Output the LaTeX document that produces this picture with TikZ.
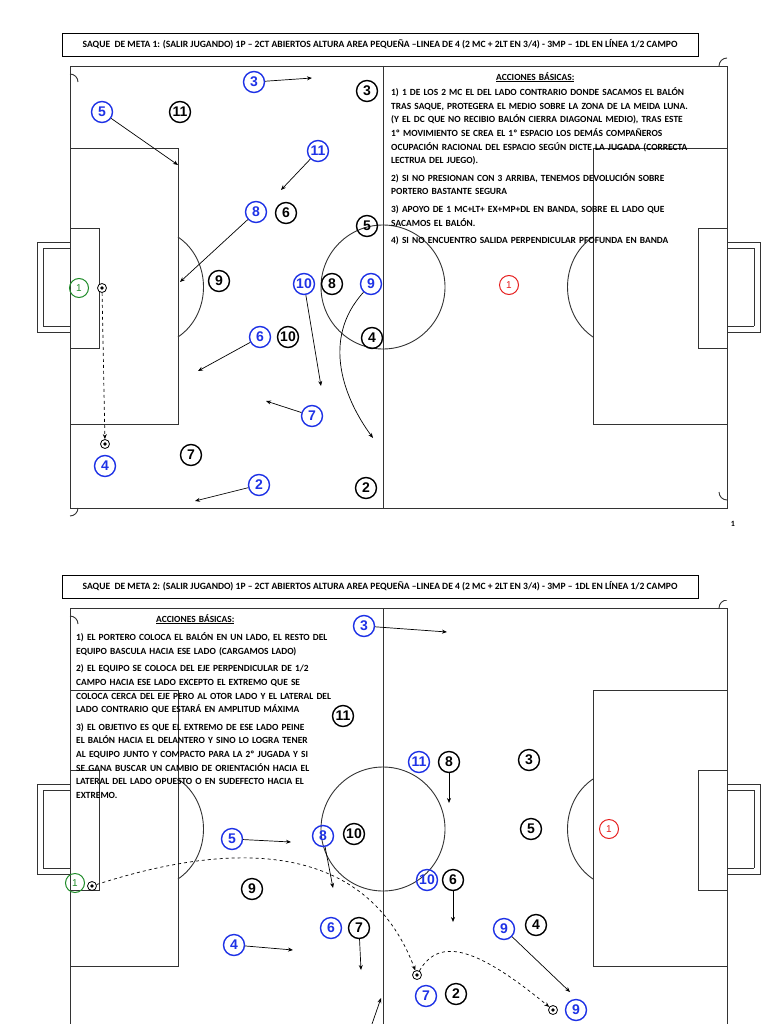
\documentclass[tikz,border=0pt]{standalone}
\usepackage{fontspec}
\setmainfont{Carlito}
\newfontfamily\numf{Liberation Sans}
\usetikzlibrary{arrows.meta}
\definecolor{pblue}{RGB}{30,50,230}
\definecolor{pgreen}{RGB}{30,140,40}
\definecolor{pred}{RGB}{230,30,30}
\hyphenpenalty=10000
\exhyphenpenalty=10000
\begin{document}
\begin{tikzpicture}[x=1pt,y=-1pt,
  line/.style={draw=black!80,line width=0.9pt},
  bp/.style={circle,draw=pblue,line width=1.4pt,text=pblue,inner sep=0pt,minimum size=21pt,font=\numf\bfseries\fontsize{14}{14}\selectfont},
  kp/.style={circle,draw=black,line width=1.4pt,text=black,inner sep=0pt,minimum size=21pt,font=\numf\bfseries\fontsize{14}{14}\selectfont},
  gk/.style={circle,draw=#1,line width=1pt,text=#1,inner sep=0pt,minimum size=19pt,font=\numf\fontsize{10}{10}\selectfont},
  ball/.style={circle,draw=black,fill=white,line width=0.8pt,inner sep=0pt,minimum size=9pt,path picture={\fill[black] (path picture bounding box.center) circle (1.8pt);}},
  arr/.style={-{Stealth[length=5pt,width=4pt]},line width=0.7pt},
  txt/.style={font=\bfseries\fontsize{9.4}{13.6}\selectfont,align=left,inner sep=0pt,anchor=north west},
  ttl/.style={draw,line width=0.7pt,minimum width=636pt,minimum height=23pt,font=\bfseries\fontsize{9.6}{10}\selectfont,inner sep=0pt}]
\useasboundingbox (0,0) rectangle (768,1024);
\fill[white] (0,0) rectangle (768,1024);
\foreach \oy/\cl in {0/0,542/1}{
\begin{scope}[yshift=-\oy pt]
\ifnum\cl=1 \clip (0,58) rectangle (768,482);\fi
\draw[line] (70,66) rectangle (727,508+60*\cl);
\draw[line] (383,66) -- (383,508+60*\cl);
\draw[line] (383,287) circle (62);
\draw[line] (70,148) rectangle (178,424);
\draw[line] (70,228) rectangle (99,348);
\draw[line] (70,242) -- (37,242) -- (37,332) -- (70,332);
\draw[line] (43,248) -- (43,326) -- (70,326);
\draw[line] (43,248) -- (70,248);
\draw[line] (727,148) -- (593,148) -- (593,424) -- (727,424);
\draw[line] (727,228) -- (698,228) -- (698,348) -- (727,348);
\draw[line] (727,242) -- (760,242) -- (760,332) -- (727,332);
\draw[line] (754,248) -- (754,326);
\draw[line] (727,248) -- (754,248); \draw[line] (727,326) -- (754,326);
\draw[line] (178,237) .. controls (212,260) and (212,314) .. (178,337);
\draw[line] (593,237) .. controls (559,260) and (559,314) .. (593,337);
\draw[line] (70,74) arc[start angle=-90,end angle=0,radius=8];
\draw[line] (719,66) arc[start angle=180,end angle=270,radius=8];
\ifnum\cl=0
\draw[line] (78,508) arc[start angle=0,end angle=90,radius=8];
\draw[line] (727,500) arc[start angle=90,end angle=180,radius=8];
\fi
\end{scope}}
\node[ttl] (t1) at (380,44.5) {SAQUE \ DE META 1: (SALIR JUGANDO) 1P -- 2CT ABIERTOS ALTURA AREA PEQUEÑA --LINEA DE 4 (2 MC + 2LT EN 3/4) - 3MP -- 1DL EN LÍNEA 1/2 CAMPO};
\node[ttl] (t2) at (380,586.5) {SAQUE \ DE META 2: (SALIR JUGANDO) 1P -- 2CT ABIERTOS ALTURA AREA PEQUEÑA --LINEA DE 4 (2 MC + 2LT EN 3/4) - 3MP -- 1DL EN LÍNEA 1/2 CAMPO};
\node[font=\bfseries\fontsize{8}{8}\selectfont] (pg) at (733,524) {1};
\node[txt,text width=300pt] (tx1) at (391,72) {\hspace*{105pt}\underline{ACCIONES BÁSICAS:}\\[2pt]
1) 1 DE LOS 2 MC EL DEL LADO CONTRARIO DONDE SACAMOS EL BALÓN TRAS SAQUE, PROTEGERA EL MEDIO SOBRE LA ZONA DE LA MEIDA LUNA. (Y EL DC QUE NO RECIBIO BALÓN CIERRA DIAGONAL MEDIO), TRAS ESTE 1º MOVIMIENTO SE CREA EL 1º ESPACIO LOS DEMÁS COMPAÑEROS OCUPACIÓN RACIONAL DEL ESPACIO SEGÚN DICTE LA JUGADA (CORRECTA LECTRUA DEL JUEGO).\\[4pt]
2) SI NO PRESIONAN CON 3 ARRIBA, TENEMOS DEVOLUCIÓN SOBRE PORTERO BASTANTE SEGURA\\[4pt]
3) APOYO DE 1 MC+LT+ EX+MP+DL EN BANDA, SOBRE EL LADO QUE SACAMOS EL BALÓN.\\[4pt]
4) SI NO ENCUENTRO SALIDA PERPENDICULAR PFOFUNDA EN BANDA};
\node[txt,text width=256pt] (tx2) at (76,614) {\hspace*{80pt}\underline{ACCIONES BÁSICAS:}\\[5pt]
1) EL PORTERO COLOCA EL BALÓN EN UN LADO, EL RESTO DEL EQUIPO BASCULA HACIA ESE LADO (CARGAMOS LADO)\\[4pt]
2) EL EQUIPO SE COLOCA DEL EJE PERPENDICULAR DE 1/2 CAMPO HACIA ESE LADO EXCEPTO EL EXTREMO QUE SE COLOCA CERCA DEL EJE PERO AL OTOR LADO Y EL LATERAL DEL LADO CONTRARIO QUE ESTARÁ EN AMPLITUD MÁXIMA\\[4pt]
3) EL OBJETIVO ES QUE EL EXTREMO DE ESE LADO PEINE EL BALÓN HACIA EL DELANTERO Y SINO LO LOGRA TENER AL EQUIPO JUNTO Y COMPACTO PARA LA 2º JUGADA Y SI SE GANA BUSCAR UN CAMBIO DE ORIENTACIÓN HACIA EL LATERAL DEL LADO OPUESTO O EN SUDEFECTO HACIA EL EXTREMO.};
% ---- page 1 players
\node[bp] (a3) at (254,82) {3}; \coordinate (a3e) at (312,78);
\node[kp] (k3) at (367,91) {3};
\node[bp] (a5) at (102,112) {5}; \coordinate (a5e) at (178,165);
\node[kp] (k11) at (180,112) {11};
\node[bp] (a11) at (318,151) {11}; \coordinate (a11e) at (281,190);
\node[bp] (a8) at (256,212) {8}; \coordinate (a8e) at (180,282);
\node[kp] (k6) at (286,213) {6};
\node[kp] (k5) at (367,226) {5};
\node[gk=pgreen] (g1) at (79,288) {1};
\node[ball] (b1) at (102,288) {};
\node[kp] (k9) at (219,281) {9};
\node[bp] (a10) at (304,284) {10}; \coordinate (a10e) at (321,386);
\node[kp] (k8) at (332,284) {8};
\node[bp] (a9) at (371,284) {9}; \coordinate (a9e) at (373,438);
\node[gk=pred] (r1) at (509,285) {1};
\node[bp] (a6) at (260,337) {6}; \coordinate (a6e) at (198,371);
\node[kp] (k10) at (288,337) {10};
\node[kp] (k4) at (372,338) {4};
\node[bp] (a7) at (312,416) {7}; \coordinate (a7e) at (266,401);
\node[ball] (b2) at (105,444) {};
\node[bp] (a4) at (105,466) {4};
\node[kp] (k7) at (191,455) {7};
\node[bp] (a2) at (259,485) {2}; \coordinate (a2e) at (195,501);
\node[kp] (k2) at (366,488) {2};
\draw[arr] (a3) -- (a3e);
\draw[arr] (a5) -- (a5e);
\draw[arr] (a11) -- (a11e);
\draw[arr] (a8) -- (a8e);
\draw[arr] (a10) -- (a10e);
\draw[arr] (a9) .. controls (320,340) and (345,400) .. (a9e);
\draw[arr] (a6) -- (a6e);
\draw[arr] (a7) -- (a7e);
\draw[arr] (a2) -- (a2e);
\draw[arr,dashed] (b1) -- (b2);
% ---- page 2 players
\node[bp] (c3) at (364,626) {3}; \coordinate (c3e) at (447,632);
\node[kp] (m11) at (343,716) {11};
\node[bp] (c11) at (419,762) {11};
\node[kp] (m8) at (449,762) {8}; \coordinate (c11e) at (449,803);
\node[kp] (m3) at (529,760) {3};
\node[kp] (m5) at (531,829) {5};
\node[gk=pred] (r2) at (609,829) {1};
\node[bp] (c5) at (232,839) {5}; \coordinate (c5e) at (291,842);
\node[bp] (c8) at (323,836) {8}; \coordinate (c8e) at (333,888);
\node[kp] (m10) at (354,834) {10};
\node[gk=pgreen] (g2) at (75,883) {1};
\node[ball] (b3) at (92,886) {};
\node[bp] (c10) at (427,880) {10};
\node[kp] (m6) at (453,880) {6}; \coordinate (c10e) at (453,922);
\node[kp] (m9) at (252,889) {9};
\node[bp] (c6) at (331,928) {6};
\node[kp] (m7) at (359,928) {7}; \coordinate (c6e) at (361,970);
\node[bp] (c4) at (234,945) {4}; \coordinate (c4e) at (293,950);
\node[bp] (c9) at (504,929) {9}; \coordinate (c9e) at (570,992);
\node[kp] (m4) at (536,925) {4};
\node[ball] (b4) at (417,975) {};
\node[bp] (c7) at (426,996) {7};
\node[kp] (m2) at (456,994) {2};
\node[ball] (b5) at (553,1010) {};
\node[bp] (c9b) at (576,1010) {9};
\coordinate (s1) at (372,1024); \coordinate (s1e) at (381,998);
\draw[arr] (c3) -- (c3e);
\draw[arr] (m8) -- (c11e);
\draw[arr] (c5) -- (c5e);
\draw[arr] (c8) -- (c8e);
\draw[arr] (m6) -- (c10e);
\draw[arr] (m7) -- (c6e);
\draw[arr] (c4) -- (c4e);
\draw[arr] (c9) -- (c9e);
\draw[arr] (s1) -- (s1e);
\draw[arr,dashed] (b3) .. controls (250,835) and (370,850) .. (b4);
\draw[arr,dashed] (b4) .. controls (440,935) and (480,950) .. (b5);
\end{tikzpicture}
\end{document}
